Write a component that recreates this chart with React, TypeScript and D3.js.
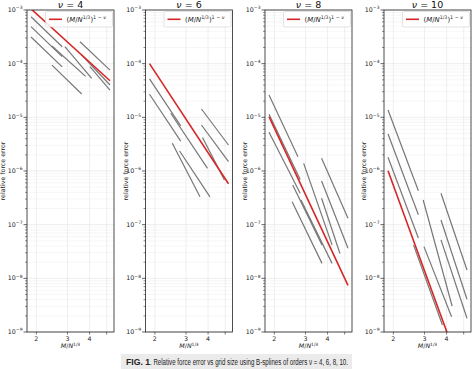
import React from "react";
import * as d3 from "d3";

const W = 474;
const H = 369;

const orders = [4, 6, 8, 10];
const panelLeft = [27, 145.5, 265, 384];
const panelTop = 10;
const panelW = 87;
const panelH = 322;

const xDomain = [1.77, 5.5];
const yDomain = [1e-9, 1e-3];
const xTickValues = [2, 3, 4];
const xGridValues = [2, 3, 4, 5];
const yExponents = [-9, -8, -7, -6, -5, -4, -3];

// red reference line (M/N^{1/3})^{1-nu}, endpoints per panel: [x0, y0, x1, y1]
const refLines = [
  [1.865, 1.05e-3, 5.22, 4.8e-5],
  [1.865, 1.0e-4, 5.22, 5.8e-7],
  [1.865, 1.03e-5, 5.22, 7.4e-9],
  [1.865, 1.01e-6, 5.22, 9.4e-11],
];

// measured error curves, [x0, y0, x1, y1]
const errNu4 = [
  [1.865, 7.5e-4, 2.8, 2.07e-4],
  [1.865, 4.9e-4, 2.8, 1.35e-4],
  [1.865, 3.14e-4, 2.8, 8.7e-5],
  [2.45, 2.13e-4, 3.8, 5.8e-5],
  [2.9, 2.07e-4, 4.11, 5.3e-5],
  [2.45, 9.4e-5, 3.61, 2.72e-5],
  [3.53, 2.56e-4, 5.22, 7.6e-5],
  [3.61, 1.45e-4, 5.22, 4.0e-5],
  [4.02, 8.8e-5, 5.22, 3.2e-5],
];
const errNu6 = [
  [1.865, 5.2e-5, 2.8, 6.95e-6],
  [1.865, 2.69e-5, 2.8, 3.6e-6],
  [2.46, 1.19e-5, 3.97, 1.12e-6],
  [2.51, 3.28e-6, 3.6, 3.3e-7],
  [2.76, 2.36e-6, 4.1, 3.3e-7],
  [3.67, 1.43e-5, 5.22, 3.05e-6],
  [3.67, 7.2e-6, 5.22, 1.49e-6],
  [3.72, 4.2e-6, 4.95, 6.8e-7],
];
const errNu8 = [
  [1.865, 2.6e-5, 2.72, 1.85e-6],
  [1.865, 1.14e-5, 2.8, 6.95e-7],
  [1.865, 5.26e-6, 2.8, 3.85e-7],
  [2.54, 5.5e-7, 3.72, 4.2e-8],
  [2.93, 1.39e-6, 4.24, 4.2e-8],
  [2.52, 2.68e-7, 3.72, 1.9e-8],
  [2.83, 2.88e-7, 4.24, 1.9e-8],
  [3.7, 1.73e-6, 5.22, 1.32e-7],
  [3.7, 6.5e-7, 5.22, 3.63e-8],
  [3.7, 3.1e-7, 4.7, 2.9e-8],
];
const errNu10 = [
  [1.865, 1.37e-5, 2.77, 4.3e-7],
  [1.865, 4.9e-6, 2.77, 1.53e-7],
  [1.865, 1.8e-6, 2.77, 5.65e-8],
  [2.95, 2.88e-7, 4.3, 3.05e-9],
  [2.6, 4.2e-8, 3.79, 1.35e-9],
  [2.98, 3.9e-8, 4.27, 1.93e-9],
  [3.72, 3.85e-7, 5.22, 1.43e-8],
  [3.72, 1.22e-7, 5.22, 4.07e-9],
  [3.72, 5.2e-8, 5.22, 1.8e-9],
];
const errCurves = [errNu4, errNu6, errNu8, errNu10];

const RED = "#d62728";
const GRAY = "#777777";

function Panel({ i, nu }: { i: number; nu: number }) {
  const L = panelLeft[i];
  const B = panelTop + panelH;
  const x = d3.scaleLog().domain(xDomain).range([L, L + panelW]);
  const y = d3.scaleLog().domain(yDomain).range([B, panelTop]);
  const line = d3
    .line<number[]>()
    .x((d) => x(d[0]))
    .y((d) => y(d[1]));
  const seg = (s: number[]) => line([[s[0], s[1]], [s[2], s[3]]]) || "";

  const minorY: number[] = [];
  yExponents.slice(0, -1).forEach((e) => {
    for (let m = 2; m < 10; m++) minorY.push(m * Math.pow(10, e));
  });
  const labelX = i === 0 ? 4.5 : L - 18;

  return (
    <g>
      <defs>
        <clipPath id={`clip${i}`}>
          <rect x={L} y={panelTop} width={panelW} height={panelH} />
        </clipPath>
      </defs>
      {/* grid */}
      {minorY.map((v) => (
        <line key={"gy" + v} x1={L} x2={L + panelW} y1={y(v)} y2={y(v)} stroke="#ececec" strokeWidth={0.5} />
      ))}
      {yExponents.map((e) => (
        <line key={"gY" + e} x1={L} x2={L + panelW} y1={y(Math.pow(10, e))} y2={y(Math.pow(10, e))} stroke="#e2e2e2" strokeWidth={0.6} />
      ))}
      {xGridValues.map((v) => (
        <line key={"gx" + v} x1={x(v)} x2={x(v)} y1={panelTop} y2={B} stroke="#e4e4e4" strokeWidth={0.6} />
      ))}

      {/* data */}
      <g clipPath={`url(#clip${i})`}>
        {errCurves[i].map((s, k) => (
          <path key={k} d={seg(s)} fill="none" stroke={GRAY} strokeWidth={1.2} />
        ))}
        <path d={seg(refLines[i])} fill="none" stroke={RED} strokeWidth={1.6} />
      </g>

      {/* frame */}
      <rect x={L} y={panelTop} width={panelW} height={panelH} fill="none" stroke="#222" strokeWidth={0.8} />

      {/* y ticks */}
      {minorY.map((v) => (
        <line key={"ty" + v} x1={L - 2} x2={L} y1={y(v)} y2={y(v)} stroke="#222" strokeWidth={0.5} />
      ))}
      {yExponents.map((e) => (
        <g key={"tY" + e}>
          <line x1={L - 3.5} x2={L} y1={y(Math.pow(10, e))} y2={y(Math.pow(10, e))} stroke="#222" strokeWidth={0.7} />
          <text x={L - 4.5} y={y(Math.pow(10, e)) + 2} textAnchor="end" fontSize={6.3} fill="#222">
            10<tspan dy={-2.7} fontSize={4.5}>{"\u2212" + Math.abs(e)}</tspan>
          </text>
        </g>
      ))}

      {/* x ticks */}
      {xGridValues.map((v) => (
        <line key={"tx" + v} x1={x(v)} x2={x(v)} y1={B} y2={B + 2.5} stroke="#222" strokeWidth={0.6} />
      ))}
      {xTickValues.map((v) => (
        <text key={"lx" + v} x={x(v)} y={B + 9} textAnchor="middle" fontSize={6.3} fill="#222">
          {v}
        </text>
      ))}
      <text x={L + panelW / 2} y={B + 16} textAnchor="middle" fontSize={6.3} fill="#222">
        <tspan fontStyle="italic">M</tspan>/<tspan fontStyle="italic">N</tspan>
        <tspan dy={-2.5} fontSize={4.4}>1/3</tspan>
      </text>
      <text transform={`translate(${labelX},${panelTop + panelH / 2}) rotate(-90)`} textAnchor="middle" fontSize={6.3} fill="#222">
        relative force error
      </text>

      {/* title */}
      <text x={L + panelW / 2} y={7.5} textAnchor="middle" fontSize={9.5} fill="#111">
        <tspan fontStyle="italic">ν</tspan> = {nu}
      </text>

      {/* legend */}
      <rect x={L + 18.5} y={11.5} width={67} height={15.5} rx={1.5} fill="#fff" fillOpacity={0.85} stroke="#d0d0d0" strokeWidth={0.6} />
      <line x1={L + 22} x2={L + 35} y1={19.3} y2={19.3} stroke={RED} strokeWidth={1.6} />
      <text x={L + 39.5} y={21.8} fontSize={6.9} fill="#222">
        (<tspan fontStyle="italic">M</tspan>/<tspan fontStyle="italic">N</tspan>
        <tspan dy={-2.8} fontSize={4.8}>1/3</tspan>
        <tspan dy={2.8}>)</tspan>
        <tspan dy={-2.8} fontSize={4.8}>
          1 − <tspan fontStyle="italic">ν</tspan>
        </tspan>
      </text>
    </g>
  );
}

export default function App() {
  return (
    <svg width={W} height={H} style={{ position: "absolute", left: 0, top: 0 }} fontFamily="DejaVu Sans">
      <rect width={W} height={H} fill="#fff" />
      {orders.map((nu, i) => (
        <Panel key={nu} i={i} nu={nu} />
      ))}
      <rect x={121} y={354} width={231} height={15} fill="#ebebeb" />
      <text x={126} y={364.6} fontFamily="Liberation Sans" fontWeight="bold" fontSize={8.3} fill="#222" textLength={24} lengthAdjust="spacingAndGlyphs">
        FIG. 1
      </text>
      <text x={150} y={364.6} fontFamily="Liberation Sans" fontSize={8.3} fill="#222" textLength={198} lengthAdjust="spacingAndGlyphs">
        . Relative force error vs grid size using B-splines of orders ν = 4, 6, 8, 10.
      </text>
    </svg>
  );
}
